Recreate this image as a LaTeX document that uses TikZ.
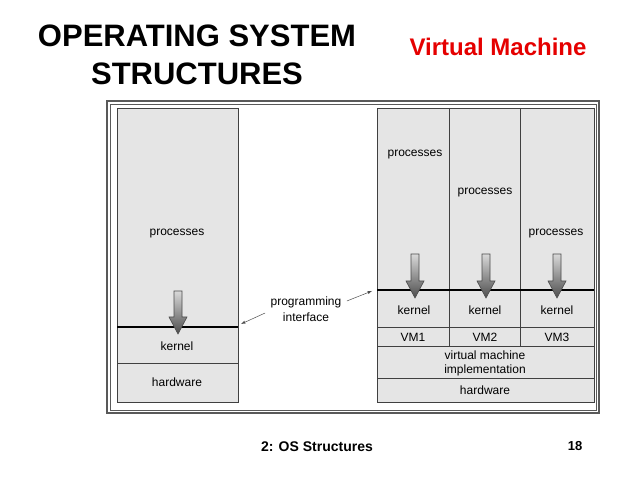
\documentclass[tikz,border=0pt]{standalone}
\usepackage{fontspec}
\setmainfont{Liberation Sans}
\begin{document}
\begin{tikzpicture}[x=1pt,y=-1pt,
  box/.style={draw=black!75,fill=black!10,line width=0.8pt},
  lbl/.style={font=\fontsize{12}{14}\selectfont,align=center,text height=8.5pt,text depth=2.5pt,yshift=-2pt},
  bar/.style={line width=2pt},
  garr/.style={draw=black!70,line width=0.6pt,top color=black!15,bottom color=black!70,shading angle=0},
  pi/.style={-latex,black!70,line width=0.5pt}]
\useasboundingbox (0,0) rectangle (638,478);
% titles
\node[font=\bfseries\fontsize{31}{38}\selectfont,align=center] (t1) at (197,55) {OPERATING SYSTEM\\STRUCTURES};
\node[font=\bfseries\fontsize{24}{28}\selectfont,text=red!90!black] (t2) at (498,47) {Virtual Machine};
\node[font=\bfseries\fontsize{14}{16}\selectfont] (f1) at (317,447) {2: OS Structures};
\node[font=\bfseries\fontsize{13}{15}\selectfont] (f2) at (575,446) {18};
% frame
\draw[black!65,line width=1.2pt] (107,101) rectangle (599,413);
\draw[black!65,line width=0.6pt] (110,104) rectangle (596,410);
% left stack
\draw[box] (117,108) rectangle (238,402);
\draw[black!75,line width=0.8pt] (117,363) -- (238,363);
\draw[bar] (117,327) -- (238,327);
\node[lbl] (lp) at (177,231) {processes};
\node[lbl] (lk) at (177,346) {kernel};
\node[lbl] (lh) at (177,382) {hardware};
\path[garr] (174,291) -- (182,291) -- (182,317) -- (187,317) -- (178,334) -- (169,317) -- (174,317) -- cycle;
% right stack
\draw[box] (377,108) rectangle (594,402);
\foreach \x in {449,520} \draw[black!75,line width=0.8pt] (\x,108) -- (\x,346);
\draw[black!75,line width=0.8pt] (377,327) -- (594,327) (377,346) -- (594,346) (377,378) -- (594,378);
\draw[bar] (377,290) -- (594,290);
\node[lbl] (p1) at (415,152) {processes};
\node[lbl] (p2) at (485,190) {processes};
\node[lbl] (p3) at (556,231) {processes};
\node[lbl] (k1) at (414,310) {kernel};
\node[lbl] (k2) at (485,310) {kernel};
\node[lbl] (k3) at (557,310) {kernel};
\node[lbl] (v1) at (413,337) {VM1};
\node[lbl] (v2) at (485,337) {VM2};
\node[lbl] (v3) at (557,337) {VM3};
\node[font=\fontsize{12}{14}\selectfont,align=center] (vmi) at (485,363) {virtual machine\\implementation};
\node[lbl] (rh) at (485,390) {hardware};
\foreach \x in {415,486,557}
  \path[garr] (\x-4,254) -- (\x+4,254) -- (\x+4,281) -- (\x+9,281) -- (\x,298) -- (\x-9,281) -- (\x-4,281) -- cycle;
% programming interface
\node[font=\fontsize{12}{16}\selectfont,align=center] (pi) at (306,309) {programming\\interface};
\coordinate (al) at (241,324);
\coordinate (ar) at (372,291);
\draw[pi] (pi.west) ++(-2,4) -- (al);
\draw[pi] (pi.east) ++(2,-8) -- (ar);
\end{tikzpicture}
\end{document}
